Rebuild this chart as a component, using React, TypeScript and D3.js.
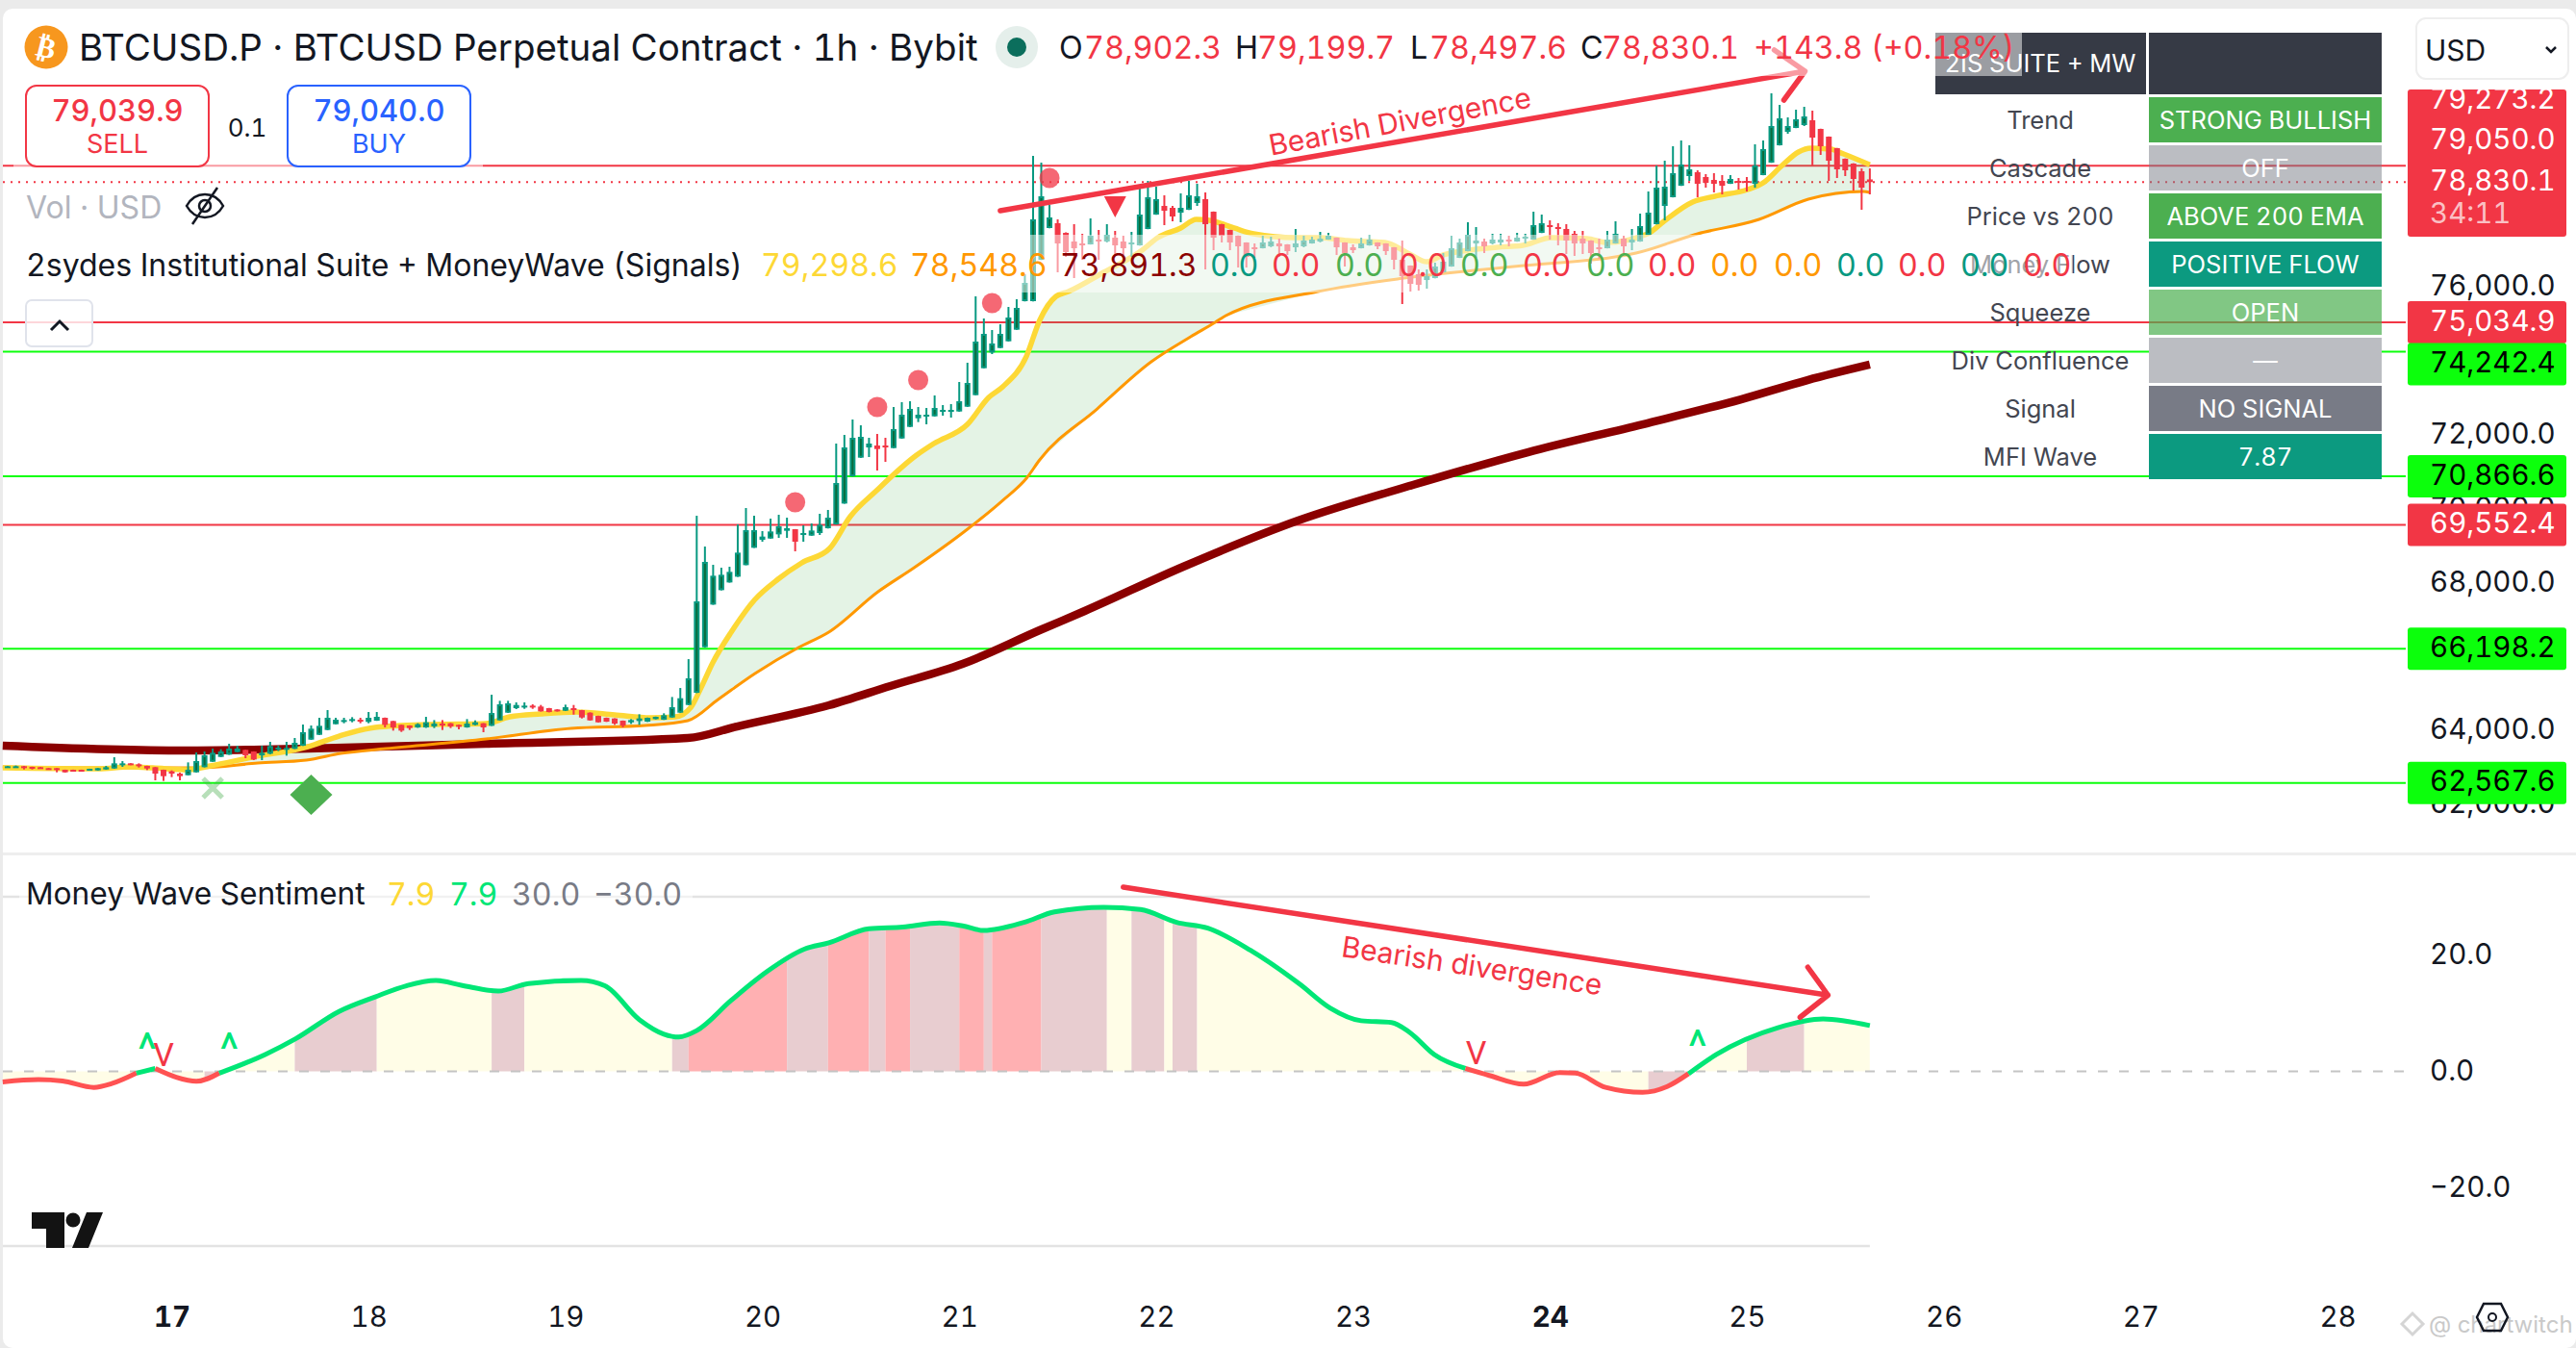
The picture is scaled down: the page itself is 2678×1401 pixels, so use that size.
import React, { useEffect, useRef } from 'react';
import * as d3 from 'd3';

const FONT = "Inter, 'Noto Sans', sans-serif";
const UP = '#089981';
const DOWN = '#F23645';
const LEVEL_GREEN = '#0CFF0C';

// candles are hourly, first one is 20 hours before the "17" tick
const firstHour = -20;
const opens = [
  62987, 62996, 63022, 63005, 62996, 62970, 62970, 62926, 62926, 62926, 62909, 62909,
  62935, 62961, 63065, 63100, 63074, 63030, 62996, 62926, 62883, 62822, 62779, 62857,
  62996, 63143, 63274, 63334, 63404, 63465, 63421, 63317, 63360, 63473, 63482, 63491,
  63577, 63742, 63872, 64003, 64159, 64228, 64246, 64280, 64220, 64254, 64332, 64245,
  64141, 64124, 64072, 64072, 64098, 64176, 64185, 64141, 64072, 64141, 64185, 64115,
  64263, 64471, 64593, 64610, 64662, 64636, 64593, 64558, 64523, 64593, 64540, 64471,
  64384, 64332, 64315, 64254, 64211, 64245, 64228, 64297, 64280, 64341, 64471, 64680,
  65009, 66242, 67396, 67787, 67995, 68151, 68464, 68933, 69150, 69184, 69297, 69393,
  69436, 69280, 69262, 69332, 69462, 69566, 70130, 70868, 71372, 71649, 71701, 71701,
  71632, 71892, 72205, 72439, 72491, 72491, 72613, 72613, 72622, 72752, 73064, 73793,
  74219, 74340, 74522, 74835, 75608, 75608, 76727, 77587, 77717, 77456, 77222, 77170,
  77144, 77274, 77222, 77326, 77222, 77170, 77118, 77561, 77951, 78185, 78133, 78003,
  78081, 78264, 78368, 78029, 77691, 77535, 77378, 77196, 77066, 77040, 77092, 77170,
  77144, 77066, 77092, 77170, 77222, 77274, 77326, 77196, 77066, 77040, 77118, 77196,
  77170, 77066, 76727, 76571, 76337, 76180, 76232, 76389, 76545, 76780, 76962, 77170,
  77222, 77170, 77196, 77274, 77222, 77300, 77274, 77456, 77665, 77613, 77561, 77430,
  77300, 77248, 77066, 77040, 77170, 77300, 77196, 77222, 77404, 77691, 78185, 78420,
  78732, 78993, 79097, 78967, 78888, 78862, 78784, 78862, 78862, 78784, 79019, 79357,
  79826, 80191, 80295, 80373, 80503, 80269, 80060, 79748, 79462, 79331, 79123, 78902.3,
];
const highs = [
  63030, 63040, 63030, 63010, 63000, 62975, 62975, 62930, 62930, 62930, 62955, 62975,
  63030, 63265, 63160, 63105, 63100, 63035, 63000, 62930, 62909, 62848, 63126, 63395,
  63421, 63499, 63482, 63630, 63577, 63470, 63425, 63577, 63682, 63577, 63682, 63786,
  64150, 64124, 64333, 64541, 64333, 64333, 64350, 64333, 64489, 64489, 64340, 64250,
  64145, 64130, 64185, 64358, 64271, 64271, 64195, 64150, 64298, 64263, 64190, 64957,
  64792, 64792, 64749, 64749, 64697, 64680, 64600, 64565, 64688, 64679, 64545, 64480,
  64390, 64340, 64320, 64260, 64298, 64428, 64340, 64365, 64454, 64896, 65139, 65920,
  69800, 68967, 68473, 68394, 68420, 69566, 70009, 69801, 69384, 69722, 69827, 69748,
  69440, 69540, 69592, 69853, 69957, 71754, 71988, 72405, 72248, 71910, 72014, 71910,
  72743, 72873, 72899, 72743, 72717, 73056, 72795, 72821, 73420, 73941, 75738, 75139,
  74826, 74982, 75451, 75660, 76337, 79540, 79357, 78211, 77821, 77470, 77691, 77430,
  77847, 77535, 77691, 77508, 77378, 77482, 78680, 78862, 78706, 78472, 78185, 78524,
  78862, 78784, 78550, 78035, 77700, 77540, 77385, 77200, 77170, 77378, 77352, 77300,
  77150, 77561, 77378, 77352, 77482, 77456, 77330, 77200, 77144, 77326, 77404, 77200,
  77175, 77070, 77248, 76575, 76467, 76467, 76649, 76910, 77378, 77300, 77743, 77613,
  77300, 77430, 77430, 77378, 77456, 77430, 78029, 77951, 77795, 77717, 77691, 77508,
  77508, 77255, 77300, 77508, 77769, 77378, 77561, 77977, 78576, 79279, 79409, 79800,
  79956, 79826, 79149, 79045, 79071, 79019, 79019, 78941, 78967, 79852, 79956, 81232,
  80920, 80581, 80789, 80868, 80763, 80275, 80065, 79755, 79470, 79340, 79199, 79199.7,
];
const lows = [
  62980, 62990, 62935, 62935, 62955, 62930, 62857, 62850, 62880, 62880, 62905, 62905,
  62930, 62955, 63005, 63050, 62987, 62918, 62640, 62623, 62727, 62640, 62775, 62850,
  62990, 63140, 63270, 63330, 63400, 63239, 63187, 63187, 63343, 63430, 63308, 63485,
  63570, 63735, 63865, 63995, 64155, 64185, 64211, 64185, 64185, 64250, 64072, 63985,
  63950, 64002, 64060, 64060, 64055, 64002, 64055, 64020, 64065, 64130, 63942, 64110,
  64255, 64465, 64567, 64575, 64575, 64500, 64480, 64500, 64515, 64419, 64315, 64255,
  64205, 64220, 64141, 64072, 64167, 64141, 64220, 64290, 64275, 64335, 64465, 64675,
  65000, 66230, 67390, 67780, 67990, 68145, 68460, 68930, 69098, 69180, 69202, 69202,
  68837, 69098, 69258, 69280, 69455, 69560, 70125, 70860, 71365, 71389, 71024, 71259,
  71625, 71885, 72200, 72335, 72274, 72485, 72509, 72457, 72615, 72745, 73060, 73790,
  74175, 74335, 74515, 74830, 75600, 75600, 76720, 77580, 76389, 76806, 76232, 76727,
  77140, 76727, 77196, 76858, 76858, 76806, 77110, 77555, 77945, 77665, 77769, 77743,
  78075, 78185, 76467, 76988, 77196, 76988, 76519, 76519, 76780, 77035, 77070, 76806,
  76858, 76936, 77066, 77165, 77200, 77270, 76858, 76545, 76910, 77035, 77110, 77014,
  76858, 76467, 75529, 75868, 75894, 75946, 76225, 76385, 76540, 76775, 76955, 76780,
  76910, 77144, 77118, 77092, 77215, 77170, 77270, 77450, 77274, 77118, 76884, 76832,
  76884, 76623, 76754, 77035, 77165, 76910, 76988, 77215, 77400, 77685, 77795, 78415,
  78725, 78862, 78420, 78680, 78550, 78498, 78780, 78628, 78576, 78680, 79015, 79350,
  79820, 80139, 80290, 80347, 79279, 79566, 78862, 78941, 78993, 78602, 78081, 78497.6,
];
const closes = [
  63022, 63022, 62978, 62961, 62961, 62935, 62935, 62857, 62883, 62883, 62952, 62970,
  62996, 63100, 63100, 63057, 63030, 62961, 62822, 62753, 62822, 62753, 62926, 63161,
  63317, 63386, 63421, 63499, 63499, 63317, 63204, 63386, 63569, 63525, 63517, 63655,
  63942, 64037, 64115, 64333, 64280, 64272, 64298, 64237, 64333, 64359, 64141, 64072,
  63985, 64055, 64159, 64211, 64176, 64124, 64098, 64089, 64176, 64211, 64072, 64462,
  64697, 64723, 64679, 64662, 64619, 64506, 64488, 64506, 64619, 64549, 64341, 64263,
  64211, 64228, 64176, 64124, 64271, 64315, 64332, 64358, 64402, 64619, 64862, 65400,
  67483, 68551, 68177, 68203, 68282, 68802, 69410, 69410, 69237, 69375, 69514, 69462,
  69098, 69332, 69401, 69557, 69748, 70686, 71649, 71910, 71936, 71754, 71606, 71649,
  72144, 72535, 72691, 72535, 72535, 72717, 72665, 72665, 72899, 73394, 74514, 74722,
  74462, 74722, 75165, 75425, 76102, 77821, 78446, 77873, 77170, 76936, 77040, 77118,
  77378, 77248, 77404, 77118, 77040, 77196, 77951, 78420, 78368, 78055, 77899, 78133,
  78472, 78446, 77691, 77326, 77378, 77196, 77092, 76806, 77014, 77196, 77222, 77092,
  76962, 77170, 77248, 77274, 77300, 77378, 77066, 76910, 76988, 77170, 77274, 77092,
  76962, 76727, 76285, 76076, 76050, 76285, 76545, 76675, 77040, 77196, 77404, 77248,
  77092, 77274, 77274, 77222, 77326, 77352, 77665, 77717, 77613, 77587, 77248, 77170,
  77170, 76910, 77014, 77274, 77430, 77092, 77274, 77639, 78003, 78680, 78706, 79071,
  79305, 79175, 78784, 78810, 78784, 78732, 78915, 78810, 78836, 79279, 79722, 80347,
  80555, 80347, 80529, 80607, 80034, 79800, 79409, 79175, 79149, 78915, 78680, 78830.1,
];

// moving averages, read at the bends of each line: [hour, price]
const fastEma: [number, number][] = [
  [-20.6, 62978], [-9, 62952], [-5, 63004], [-2.3, 62978], [2, 62926], [4.7, 63030], [9.8, 63265],
  [16.6, 63551], [20.4, 63837], [24.8, 64072], [31.5, 64150], [38.3, 64176], [41.2, 64358],
  [45, 64437], [49.4, 64488], [54, 64410], [58.4, 64332], [61.4, 64358], [63.3, 64619],
  [64.4, 65088], [66, 65843], [68.2, 66650], [71.1, 67535], [73.9, 68082], [76.8, 68525],
  [80.2, 68915], [82.7, 69775], [85.9, 70478], [90.8, 71441], [92.9, 71754], [97, 72274],
  [99.6, 73003], [101.3, 73290], [104.2, 74123], [105.8, 75087], [107.8, 75738], [109.3, 75868],
  [113.6, 76389], [118.3, 76988], [120.2, 77326], [123, 77587], [124.9, 77821], [126.5, 77795],
  [129.5, 77587], [131.9, 77430], [137, 77326], [140.1, 77326], [143.3, 77248], [147.9, 77196],
  [151.1, 76858], [153, 76675], [155, 76858], [158.1, 76988], [161.6, 77066], [164.7, 77118],
  [168.2, 77326], [172.5, 77300], [174.9, 77196], [179.9, 77430], [181.9, 77769], [185.4, 78290],
  [188.1, 78446], [192.1, 78628], [194, 78810], [196.3, 79279], [198.3, 79644], [199.8, 79748],
  [202.2, 79722], [203.8, 79592], [207, 79298.6],
];
const slowEma: [number, number][] = [
  [-20.6, 63004], [-9, 62978], [3.5, 62978], [10.5, 63108], [16.4, 63186], [20.6, 63368], [26.1, 63499],
  [38.3, 63759], [48.7, 64046], [57.7, 64124], [62.9, 64254], [66.6, 64827], [71.1, 65530],
  [76.4, 66233], [80.1, 66650], [86.1, 67743], [90.5, 68394], [97, 69436], [101.3, 70217],
  [104.2, 70816], [105.8, 71311], [112.8, 72691], [119.4, 73967], [124.2, 74644], [127.2, 75035],
  [128.5, 75217], [139.7, 75868], [150.2, 76232], [163.6, 76545], [178.5, 76910], [186, 77430],
  [193.5, 77821], [199.5, 78368], [206.2, 78576], [207, 78548.6],
];
const ema200: [number, number][] = [
  [-20.6, 63577], [1.6, 63447], [16.6, 63499], [38.3, 63629], [62.9, 63785], [68.9, 64098],
  [80.1, 64671], [87.6, 65192], [96.4, 65790], [105.8, 66702], [111.3, 67223], [123.3, 68421],
  [137.3, 69670], [151.3, 70634], [165.3, 71519], [179.3, 72274], [191.3, 72951], [199.4, 73472],
  [207, 73891.3],
];

const resistanceLevels = [79273.2, 75034.9, 69552.4];
const supportLevels = [74242.4, 70866.6, 66198.2, 62567.6];
const lastClose = 78830.1;
const priceTicks = [76000, 72000, 70000, 68000, 64000, 62000];

const redDotHours = [76, 86, 91, 100, 107];
const redDotPrices = [70165, 72743, 73472, 75555, 78941];

const dayHours = [0, 24, 48, 72, 96, 120, 144, 168, 192, 216, 240, 264];
const dayLabels = ['17', '18', '19', '20', '21', '22', '23', '24', '25', '26', '27', '28'];
const boldDays = ['17', '24'];

const waveHours = [
  -20.6, -16.25, -13.3, -9.5, -7.3, -4.3, -2, 0.56, 3, 5.8, 11.4, 15.1, 20.4, 24.8, 28.6, 32.2, 35.3,
  39.8, 43.5, 49.9, 52.8, 57, 60, 61.8, 64, 68.2, 72.6, 77.1, 80.1, 85, 89.1, 93.6, 96.4, 99, 103.9,
  107.6, 113.6, 118.1, 122.5, 126.3, 131.5, 137.5, 141.2, 145, 148.7, 150.9, 153.9, 157.7, 160.6,
  164.8, 169.2, 171.1, 174.8, 179.3, 182.3, 184.9, 188.3, 195.8, 201.3, 207,
];
const waveValues = [
  -1.8, -1.4, -1.65, -2.75, -2.1, -0.3, 0.5, -1, -1.7, -0.3, 2.9, 5.6, 10.3, 12.8, 14.7, 15.6, 14.8,
  13.8, 15.1, 15.6, 14.7, 8.9, 6.4, 5.9, 7, 12.2, 17.2, 21, 22.1, 24.5, 24.8, 25.5, 25, 24.2, 25.6,
  27.4, 28.2, 27.8, 25.6, 24.6, 20.8, 15, 10.9, 8.7, 8.4, 6.7, 2.9, 0.5, -0.7,
  -2.2, -0.2, -0.3, -2.75, -3.6, -2.6, -0.4, 2.9, 7.5, 9, 7.87,
];
const waveUpColor = '#00E676';
const waveDownColor = '#FF5252';
const waveRuns: [number, number, string][] = [
  [-20.6, -4.3, waveDownColor], [-4.3, -2, waveUpColor], [-2, 5.8, waveDownColor],
  [5.8, 157.7, waveUpColor], [157.7, 184.9, waveDownColor], [184.9, 207, waveUpColor],
];

const PALE = '#FFFDE7';
const ROSE = '#E8CDD0';
const PINK = '#FFB0B2';
const waveBands: [number, number, string][] = [
  [-20.6, 4, PALE], [4, 6, ROSE], [6, 15, PALE], [15, 25, ROSE], [25, 39, PALE], [39, 43, ROSE],
  [43, 61, PALE], [61, 63, ROSE], [63, 75, PINK], [75, 80, ROSE], [80, 85, PINK], [85, 87, ROSE],
  [87, 90, PINK], [90, 96, ROSE], [96, 99, PINK], [99, 100, ROSE], [100, 106, PINK], [106, 114, ROSE],
  [114, 117, PALE], [117, 121, ROSE], [121, 122, PALE], [122, 125, ROSE], [125, 180, PALE],
  [180, 185, ROSE], [185, 192, PALE], [192, 199, ROSE], [199, 207, PALE],
];
const waveTicks = [20, 0, -20];

const upSignalHours = [-3, 7, 186];
const upSignalValues = [5.5, 5.5, 6];
const downSignalHours = [-1, 159];
const downSignalValues = [3, 3.3];

const tableLabels = ['Trend', 'Cascade', 'Price vs 200', 'Money Flow', 'Squeeze', 'Div Confluence', 'Signal', 'MFI Wave'];
const tableValues = ['STRONG BULLISH', 'OFF', 'ABOVE 200 EMA', 'POSITIVE FLOW', 'OPEN', '—', 'NO SIGNAL', '7.87'];
const tableFills = ['#4CAF50', '#787B86', '#4CAF50', '#0C9A80', '#4CAF50', '#BBBDC2', '#787B86', '#0C9A80'];
const tableAlphas = [1, 0.5, 1, 1, 0.7, 1, 1, 1];

const legendZeroColors = [UP, DOWN, '#4CAF50', DOWN, '#4CAF50', DOWN, '#4CAF50', DOWN, '#FF9800', '#FF9800', UP, DOWN, UP, DOWN];
const legendZeroX = [1258, 1322, 1388, 1454, 1518, 1583, 1649, 1713, 1778, 1844, 1909, 1973, 2038, 2103];

const App: React.FC = () => {
  const svgRef = useRef<SVGSVGElement>(null);

  useEffect(() => {
    if (!svgRef.current) return;
    const svg = d3.select(svgRef.current);
    svg.selectAll('*').remove();
    svg.attr('font-family', FONT);

    const x = d3.scaleLinear().domain([0, 264]).range([178.5, 2430]);
    const y = d3.scaleLinear().domain([75034.9, 62567.6]).range([335, 813.8]);
    const w = d3.scaleLinear().domain([30, -30]).range([932, 1295]);

    const text = (g: any, tx: number, ty: number, s: string, size: number, fill: string, anchor = 'start', weight = 400) =>
      g.append('text').attr('x', tx).attr('y', ty).attr('dy', '.36em').attr('font-size', size)
        .attr('fill', fill).attr('text-anchor', anchor).attr('font-weight', weight).text(s);

    // page frame
    svg.append('rect').attr('width', 2678).attr('height', 1401).attr('fill', '#EBEBEB');
    svg.append('rect').attr('x', 3).attr('y', 9).attr('width', 2675).attr('height', 1392).attr('rx', 10).attr('fill', '#fff');

    // horizontal levels
    const levels = svg.append('g');
    supportLevels.forEach(v => {
      levels.append('line').attr('x1', 3).attr('x2', 2501).attr('y1', y(v)).attr('y2', y(v)).attr('stroke', LEVEL_GREEN).attr('stroke-width', 2);
    });
    resistanceLevels.forEach(v => {
      levels.append('line').attr('x1', 3).attr('x2', 2501).attr('y1', y(v)).attr('y2', y(v)).attr('stroke', DOWN).attr('stroke-width', 2);
    });
    levels.append('line').attr('x1', 3).attr('x2', 2501).attr('y1', y(lastClose)).attr('y2', y(lastClose))
      .attr('stroke', DOWN).attr('stroke-width', 2).attr('stroke-dasharray', '2 6');

    // moving averages with the cloud between the two fast ones
    const priceLine = d3.line<[number, number]>().x(d => x(d[0])).y(d => y(d[1]));
    svg.append('path').attr('d', priceLine([...fastEma, ...slowEma.slice().reverse()]))
      .attr('fill', '#4CAF50').attr('fill-opacity', 0.15);
    const smooth = d3.line<[number, number]>().x(d => x(d[0])).y(d => y(d[1])).curve(d3.curveMonotoneX);
    svg.append('path').attr('d', smooth(ema200)).attr('fill', 'none').attr('stroke', '#8B0000').attr('stroke-width', 8.5);
    svg.append('path').attr('d', smooth(slowEma)).attr('fill', 'none').attr('stroke', '#FF9800').attr('stroke-width', 3);
    svg.append('path').attr('d', smooth(fastEma)).attr('fill', 'none').attr('stroke', '#FDD835').attr('stroke-width', 5.5);

    // candles
    const candles = svg.append('g');
    opens.forEach((o, i) => {
      const c = closes[i];
      const cx = x(firstHour + i);
      const up = c >= o;
      const top = y(Math.max(o, c));
      const h = Math.max(y(Math.min(o, c)) - top, 2);
      candles.append('line').attr('x1', cx).attr('x2', cx).attr('y1', y(highs[i])).attr('y2', y(lows[i]))
        .attr('stroke', up ? UP : DOWN).attr('stroke-width', 2);
      if (up && h > 4) {
        candles.append('rect').attr('x', cx - 2).attr('y', top + 1).attr('width', 4).attr('height', h - 2)
          .attr('fill', '#0B6B3C').attr('stroke', UP).attr('stroke-width', 2);
      } else {
        candles.append('rect').attr('x', cx - 3).attr('y', top).attr('width', 6).attr('height', h).attr('fill', up ? UP : DOWN);
      }
    });

    // signal shapes on price
    redDotHours.forEach((h, i) => {
      svg.append('circle').attr('cx', x(h)).attr('cy', y(redDotPrices[i])).attr('r', 10.5).attr('fill', DOWN).attr('fill-opacity', 0.75);
    });
    const triX = x(115), triY = y(78160);
    svg.append('path').attr('d', `M${triX - 11.5},${triY - 11}L${triX + 11.5},${triY - 11}L${triX},${triY + 11}Z`).attr('fill', DOWN);
    const crossX = x(5), crossY = y(62431);
    svg.append('path').attr('d', `M${crossX - 10},${crossY - 10}L${crossX + 10},${crossY + 10}M${crossX + 10},${crossY - 10}L${crossX - 10},${crossY + 10}`)
      .attr('stroke', '#4CAF50').attr('stroke-opacity', 0.4).attr('stroke-width', 5).attr('fill', 'none');
    const diaX = x(17), diaY = y(62248);
    svg.append('path').attr('d', `M${diaX},${diaY - 21}L${diaX + 22},${diaY}L${diaX},${diaY + 21}L${diaX - 22},${diaY}Z`).attr('fill', '#4CAF50');

    // hand drawn divergence arrows
    const arrow = (x1: number, y1: number, x2: number, y2: number, a: number[], b: number[]) => {
      svg.append('path')
        .attr('d', `M${x1},${y1}L${x2},${y2}M${x2 + a[0]},${y2 + a[1]}L${x2},${y2}L${x2 + b[0]},${y2 + b[1]}`)
        .attr('fill', 'none').attr('stroke', DOWN).attr('stroke-width', 5.5).attr('stroke-linecap', 'round').attr('stroke-linejoin', 'round');
    };
    arrow(x(101), y(78055), x(199.1), y(81831), [-32, -22], [-22, 30]);
    svg.append('text').attr('transform', `translate(${x(149.7)},${y(80477)}) rotate(-10.5)`).attr('text-anchor', 'middle').attr('dy', '.36em')
      .attr('font-size', 30).attr('fill', DOWN).text('Bearish Divergence');

    // status table
    const table = svg.append('g');
    table.append('rect').attr('x', 2012).attr('y', 34).attr('width', 219).attr('height', 64).attr('fill', '#363A45');
    table.append('rect').attr('x', 2234).attr('y', 34).attr('width', 242).attr('height', 64).attr('fill', '#363A45');
    text(table, 2121, 66, '2IS SUITE + MW', 25.5, '#fff', 'middle');
    tableLabels.forEach((label, i) => {
      const rowY = 101 + i * 50;
      table.append('rect').attr('x', 2234).attr('y', rowY).attr('width', 242).attr('height', 47)
        .attr('fill', tableFills[i]).attr('fill-opacity', tableAlphas[i]);
      text(table, 2121, rowY + 23.5, label, 25.5, '#434651', 'middle');
      text(table, 2355, rowY + 23.5, tableValues[i], 25.5, '#fff', 'middle');
    });

    // legend rows sit on translucent bands
    const band = (bx: number, by: number, bw: number, bh: number) =>
      svg.append('rect').attr('x', bx).attr('y', by).attr('width', bw).attr('height', bh).attr('fill', '#fff').attr('fill-opacity', 0.5);
    band(20, 34, 2082, 45);
    band(14, 88, 488, 86);
    band(20, 244, 2135, 60);

    // header
    svg.append('circle').attr('cx', 48).attr('cy', 49).attr('r', 22.5).attr('fill', '#F7971E');
    svg.append('text').attr('transform', 'translate(48,49) rotate(14)').attr('text-anchor', 'middle').attr('dy', '.36em')
      .attr('font-size', 30).attr('font-family', 'DejaVu Sans').attr('font-weight', 700).attr('fill', '#fff').text('₿');
    text(svg, 82, 49, 'BTCUSD.P · BTCUSD Perpetual Contract · 1h · Bybit', 38.5, '#131722');
    svg.append('circle').attr('cx', 1057).attr('cy', 49).attr('r', 22).attr('fill', '#E5EFEB');
    svg.append('circle').attr('cx', 1057).attr('cy', 49).attr('r', 10).attr('fill', '#0B6E5C');
    const ohlc: [string, string, number, number][] = [
      ['O', '78,902.3', 1101, 1127],
      ['H', '79,199.7', 1284, 1307],
      ['L', '78,497.6', 1466, 1486],
      ['C', '78,830.1', 1643, 1665],
    ];
    ohlc.forEach(([k, v, kx, vx]) => {
      text(svg, kx, 49, k, 32.3, '#131722');
      text(svg, vx, 49, v, 32.3, DOWN);
    });
    text(svg, 1823, 49, '+143.8 (+0.18%)', 32.3, DOWN);

    // sell / buy
    const trade = (bx: number, color: string, price: string, side: string) => {
      svg.append('rect').attr('x', bx).attr('y', 89).attr('width', 190).attr('height', 84).attr('rx', 11)
        .attr('fill', '#fff').attr('fill-opacity', 0.8).attr('stroke', color).attr('stroke-width', 2);
      text(svg, bx + 95, 115, price, 31, color, 'middle', 500);
      text(svg, bx + 95, 149, side, 27, color, 'middle');
    };
    trade(27, DOWN, '79,039.9', 'SELL');
    text(svg, 257, 133, '0.1', 26, '#131722', 'middle');
    trade(299, '#2962FF', '79,040.0', 'BUY');

    text(svg, 27, 215, 'Vol · USD', 32, '#B2B5BE');
    const eye = svg.append('g').attr('transform', 'translate(213,214)').attr('fill', 'none').attr('stroke', '#131722').attr('stroke-width', 2.5);
    eye.append('path').attr('d', 'M-19,0C-10,-16 10,-16 19,0C10,16 -10,16 -19,0Z');
    eye.append('circle').attr('r', 6);
    eye.append('path').attr('d', 'M13,-19L-13,19');

    text(svg, 27, 275, '2sydes Institutional Suite + MoneyWave (Signals)', 32, '#131722');
    text(svg, 791, 275, '79,298.6', 32.2, '#FDD835');
    text(svg, 946, 275, '78,548.6', 32.2, '#FF9800');
    text(svg, 1102, 275, '73,891.3', 32.2, '#8B0000');
    legendZeroX.forEach((zx, i) => text(svg, zx, 275, '0.0', 32.2, legendZeroColors[i]));

    svg.append('rect').attr('x', 27).attr('y', 312).attr('width', 69).attr('height', 48).attr('rx', 6)
      .attr('fill', '#fff').attr('fill-opacity', 0.8).attr('stroke', '#E0E3EB').attr('stroke-width', 2);
    svg.append('path').attr('d', 'M53,343L62,334L71,343').attr('fill', 'none').attr('stroke', '#131722').attr('stroke-width', 3);

    // price scale
    const priceAxis = svg.append('g').attr('transform', 'translate(2526,0)')
      .call(d3.axisRight(y).tickValues(priceTicks).tickSize(0).tickPadding(0).tickFormat(d3.format(',.1f') as any));
    priceAxis.select('.domain').remove();
    priceAxis.selectAll('text').attr('font-size', 29.5).attr('font-family', FONT).attr('fill', '#131722').attr('dy', '.3em');

    const box = (by: number, bh: number, color: string) =>
      svg.append('rect').attr('x', 2503).attr('y', by).attr('width', 165).attr('height', bh).attr('rx', 3).attr('fill', color);
    box(93, 153, DOWN);
    text(svg, 2526, 102, '79,273.2', 29.5, '#fff');
    text(svg, 2526, 144, '79,050.0', 29.5, '#fff');
    text(svg, 2526, 187, '78,830.1', 29.5, '#fff');
    text(svg, 2526, 221, '34:11', 29.5, 'rgba(255,255,255,0.7)');
    svg.append('rect').attr('x', 2500).attr('y', 80).attr('width', 172).attr('height', 13).attr('fill', '#fff');

    resistanceLevels.slice(1).forEach(v => {
      box(y(v) - 22, 44, DOWN);
      text(svg, 2526, y(v) - 2, d3.format(',.1f')(v), 29.5, '#fff');
    });
    supportLevels.forEach((v, i) => {
      // the first green tag is pushed down by the red one above it
      const shift = i === 0 ? 13 : 0;
      box(y(v) - 22 + shift, 44, LEVEL_GREEN);
      text(svg, 2526, y(v) - 2 + shift, d3.format(',.1f')(v), 29.5, '#000');
    });

    // currency select
    svg.append('rect').attr('x', 2512).attr('y', 19).attr('width', 158).attr('height', 63).attr('rx', 10)
      .attr('fill', '#fff').attr('stroke', '#EEEEEE').attr('stroke-width', 2);
    text(svg, 2521, 52, 'USD', 30, '#131722');
    svg.append('path').attr('d', 'M2647,49L2652,54L2657,49').attr('fill', 'none').attr('stroke', '#131722').attr('stroke-width', 2.5);

    // pane split
    svg.append('rect').attr('x', 3).attr('y', 886).attr('width', 2675).attr('height', 3).attr('fill', '#EEEEEE');

    // sentiment pane
    [30, -30].forEach(v => {
      svg.append('line').attr('x1', 3).attr('x2', x(207)).attr('y1', w(v)).attr('y2', w(v)).attr('stroke', '#E3E3E3').attr('stroke-width', 2.5);
    });
    const wave: [number, number][] = waveHours.map((h, i) => [h, waveValues[i]]);
    const waveArea = d3.area<[number, number]>().x(d => x(d[0])).y0(w(0)).y1(d => w(d[1])).curve(d3.curveMonotoneX);
    svg.append('clipPath').attr('id', 'wave-clip').append('path').attr('d', waveArea(wave));
    const bands = svg.append('g').attr('clip-path', 'url(#wave-clip)');
    waveBands.forEach(([from, to, color]) => {
      bands.append('rect').attr('x', x(from)).attr('y', w(30)).attr('width', x(to) - x(from)).attr('height', w(-30) - w(30)).attr('fill', color);
    });
    svg.append('line').attr('x1', 3).attr('x2', 2501).attr('y1', w(0)).attr('y2', w(0))
      .attr('stroke', '#C4C4C4').attr('stroke-width', 2).attr('stroke-dasharray', '10 12');
    const waveLine = d3.line<[number, number]>().x(d => x(d[0])).y(d => w(d[1])).curve(d3.curveMonotoneX);
    waveRuns.forEach(([from, to, color]) => {
      svg.append('path').attr('d', waveLine(wave.filter(d => d[0] >= from && d[0] <= to)))
        .attr('fill', 'none').attr('stroke', color).attr('stroke-width', 5);
    });
    upSignalHours.forEach((h, i) => {
      svg.append('text').attr('x', x(h)).attr('y', w(upSignalValues[i])).attr('dy', '.56em').attr('text-anchor', 'middle')
        .attr('font-size', 48).attr('font-family', 'Roboto').attr('fill', waveUpColor).text('^');
    });
    downSignalHours.forEach((h, i) => {
      svg.append('text').attr('x', x(h)).attr('y', w(downSignalValues[i])).attr('dy', '.36em').attr('text-anchor', 'middle')
        .attr('font-size', 34).attr('font-family', 'Roboto').attr('fill', DOWN).text('V');
    });
    arrow(x(116), w(31.65), x(201.9), w(13.1), [-21, -29], [-29, 23]);
    svg.append('text').attr('transform', `translate(${x(158.5)},${w(18.2)}) rotate(8.5)`).attr('text-anchor', 'middle').attr('dy', '.36em')
      .attr('font-size', 30).attr('fill', DOWN).text('Bearish divergence');

    svg.append('rect').attr('x', 20).attr('y', 906).attr('width', 700).attr('height', 46).attr('fill', '#fff').attr('fill-opacity', 0.5);
    text(svg, 27, 929, 'Money Wave Sentiment', 31.7, '#131722');
    text(svg, 402, 929, '7.9', 32.2, '#FDD835');
    text(svg, 467, 929, '7.9', 32.2, waveUpColor);
    text(svg, 532, 929, '30.0', 32.2, '#787B86');
    text(svg, 617, 929, '−30.0', 32.2, '#787B86');

    const waveAxis = svg.append('g').attr('transform', 'translate(2526,0)')
      .call(d3.axisRight(w).tickValues(waveTicks).tickSize(0).tickPadding(0).tickFormat(d3.format('.1f') as any));
    waveAxis.select('.domain').remove();
    waveAxis.selectAll('text').attr('font-size', 29.5).attr('font-family', FONT).attr('fill', '#131722').attr('dy', '.3em');

    // time scale
    const timeAxis = svg.append('g').attr('transform', 'translate(0,1368)')
      .call(d3.axisBottom(x).tickValues(dayHours).tickSize(0).tickPadding(0).tickFormat((_, i) => dayLabels[i]));
    timeAxis.select('.domain').remove();
    timeAxis.selectAll('text').attr('font-size', 29.5).attr('font-family', FONT).attr('fill', '#131722').attr('dy', '.36em')
      .attr('font-weight', (_, i) => (boldDays.includes(dayLabels[i]) ? 700 : 400));

    // TV mark
    svg.append('path').attr('d', 'M33,1260H67V1297H48V1277H33ZM90,1260H107L92,1297H75Z').attr('fill', '#131313');
    svg.append('circle').attr('cx', 76).attr('cy', 1268).attr('r', 7.5).attr('fill', '#131313');

    // watermark and the snapshot button
    text(svg, 2525, 1376, '@ chartwitch', 24, '#C9C9C9');
    svg.append('path').attr('d', 'M2497,1376l11,-11l11,11l-11,11Z').attr('fill', 'none').attr('stroke', '#D5D5D5').attr('stroke-width', 3);
    svg.append('path').attr('d', 'M2575,1369l7,-14h18l7,14l-7,14h-18Z').attr('fill', 'none').attr('stroke', '#131722').attr('stroke-width', 2.5);
    svg.append('circle').attr('cx', 2591).attr('cy', 1369).attr('r', 4).attr('fill', 'none').attr('stroke', '#131722').attr('stroke-width', 2);
  }, []);

  return (
    <svg
      ref={svgRef}
      width={2678}
      height={1401}
      viewBox="0 0 2678 1401"
      style={{ position: 'absolute', left: 0, top: 0, display: 'block', fontVariantNumeric: 'tabular-nums' }}
    />
  );
};

export default App;
